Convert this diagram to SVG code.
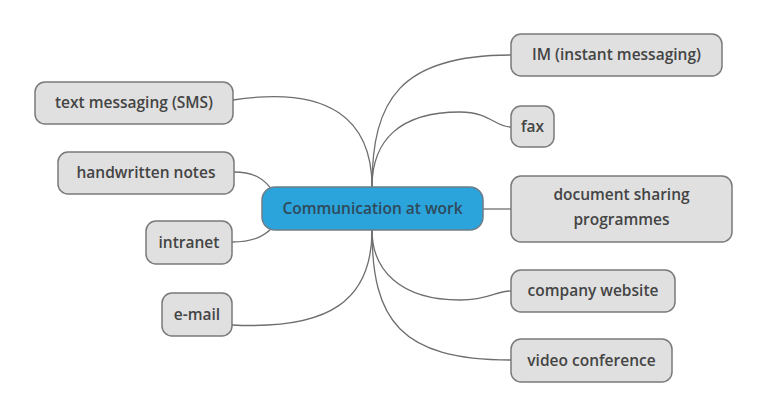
<svg xmlns="http://www.w3.org/2000/svg" width="768" height="418" viewBox="0 0 768 418">
<style>
.n rect{fill:#e0e0e0;stroke:#7a7a7a;stroke-width:1.5}
text{font-family:"Open Sans",sans-serif;font-weight:600;font-size:15.5px;fill:#444;text-anchor:middle}
#conn path{fill:none;stroke:#6e6e6e;stroke-width:1.3}
</style>
<rect width="768" height="418" fill="#fff"/>
<g id="conn">
<path d="M372,187 C372,100 400,55 511,55"/>
<path d="M372,187 C372,140 400,112 460,112 C490,112 495,127 511,127"/>
<path d="M483,209 H511"/>
<path d="M372,230 C372,270 400,300 460,300 C490,300 495,291 511,291"/>
<path d="M372,230 C372,320 400,360 511,360"/>
<path d="M233,100 C330,85 372,120 372,187"/>
<path d="M234,172 C255,172 265,180 272,190"/>
<path d="M232,242 C255,242 265,235 272,228"/>
<path d="M232,325 C330,330 372,300 372,230"/>
</g>
<g id="center"><rect x="262" y="187" width="221" height="43" rx="13" fill="#2ba3db" stroke="#6e7d88" stroke-width="1.5"/><text x="372.5" y="214" fill="#2f4a5a" style="fill:#2f4a5a">Communication at work</text></g>
<g id="im" class="n"><rect x="511" y="34" width="211" height="42" rx="10"/><text x="616.5" y="60">IM (instant messaging)</text></g>
<g id="fax" class="n"><rect x="511" y="106" width="43" height="41" rx="10"/><text x="532.5" y="132">fax</text></g>
<g id="doc" class="n"><rect x="511" y="176" width="221" height="66" rx="10"/><text x="621.5" y="200">document sharing</text><text x="621.5" y="225">programmes</text></g>
<g id="web" class="n"><rect x="511" y="270" width="164" height="42" rx="10"/><text x="593" y="296">company website</text></g>
<g id="video" class="n"><rect x="511" y="339" width="161" height="43" rx="10"/><text x="591.5" y="366">video conference</text></g>
<g id="sms" class="n"><rect x="35" y="82" width="198" height="42" rx="10"/><text x="134" y="108">text messaging (SMS)</text></g>
<g id="notes" class="n"><rect x="58" y="152" width="176" height="42" rx="10"/><text x="146" y="178">handwritten notes</text></g>
<g id="intranet" class="n"><rect x="146" y="221" width="86" height="43" rx="10"/><text x="189" y="248">intranet</text></g>
<g id="email" class="n"><rect x="162" y="293" width="70" height="43" rx="10"/><text x="197" y="320">e-mail</text></g>
</svg>
